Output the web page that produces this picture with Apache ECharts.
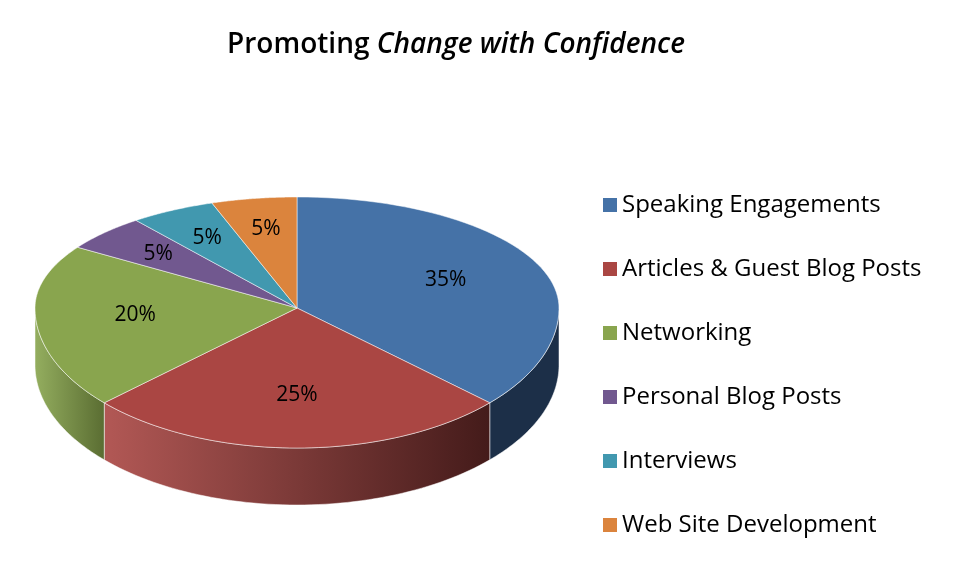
<!DOCTYPE html>
<html><head><meta charset="utf-8">
<script src="https://cdn.jsdelivr.net/npm/echarts@6/dist/echarts.min.js"></script>
<style>html,body{margin:0;background:#fff}#c{width:960px;height:572px}</style>
</head><body><div id="c"></div>
<script>
var categories = ["Speaking Engagements", "Articles & Guest Blog Posts", "Networking", "Personal Blog Posts", "Interviews", "Web Site Development"];
var values = [35, 25, 20, 5, 5, 5];
var colors = ["#4572A7", "#AA4643", "#89A54E", "#71588F", "#4198AF", "#DB843D"];
var sideDark = ["#1c2f48", "#441b1a", "#5a6d32", "#3f2f52", "#25596a", "#7d4a20"];

// perspective: back half flatter than front half
var cx = 297, cy = 308, rx = 262, ryBack = 111, ryFront = 140, depth = 57;
var total = values.reduce(function (a, b) { return a + b; }, 0);
var starts = [];
(function () { var s = 0; for (var i = 0; i < values.length; i++) { starts.push(s); s += values[i]; } })();

function pt(t, dy, f) {
    f = f || 1;
    var c = Math.cos(t), ry = c > 0 ? ryBack : ryFront;
    return [cx + rx * f * Math.sin(t), cy - ry * f * c + (dy || 0)];
}
function angles(i) { return [starts[i] / total * 2 * Math.PI, (starts[i] + values[i]) / total * 2 * Math.PI]; }

function topItem(params, api) {
    var i = params.dataIndex, a = angles(i), pts = [[cx, cy]];
    for (var k = 0; k <= 60; k++) pts.push(pt(a[0] + (a[1] - a[0]) * k / 60));
    var m = (a[0] + a[1]) / 2;
    var lp = pt(m, 0, values[i] < 10 ? 0.72 : 0.62);
    return { type: "group", children: [
        { type: "polygon", shape: { points: pts }, style: { fill: colors[i], stroke: "#fff", lineWidth: 0.5 } },
        { type: "text", x: lp[0], y: lp[1], style: { text: values[i] + "%", fill: "#000", font: "21px 'Open Sans', sans-serif", align: "center", verticalAlign: "middle" } }
    ]};
}
function sideItem(params, api) {
    var i = params.dataIndex, a = angles(i);
    var lo = Math.max(a[0], Math.PI / 2), hi = Math.min(a[1], 3 * Math.PI / 2);
    if (hi <= lo) return null;
    var up = [], dn = [];
    for (var k = 0; k <= 60; k++) {
        var t = lo + (hi - lo) * k / 60;
        up.push(pt(t)); dn.unshift(pt(t, depth));
    }
    return { type: "polygon", shape: { points: up.concat(dn) }, style: {
        fill: new echarts.graphic.LinearGradient(0, 0, 1, 0, [
            { offset: 0, color: i === 0 ? sideDark[i] : echarts.color.lift(colors[i], 0.1) },
            { offset: 1, color: sideDark[i] }]),
        stroke: "#fff", lineWidth: 0.5 } };
}

var chart = echarts.init(document.getElementById("c"));
chart.setOption({
    animation: false,
    title: { left: 451, top: 26, textAlign: "center", text: "{a|Promoting }{b|Change with Confidence}",
        textStyle: { rich: {
            a: { fontSize: 28, fontFamily: "'Open Sans', sans-serif", fontWeight: 600, color: "#000" },
            b: { fontSize: 28, fontFamily: "'Open Sans', sans-serif", fontWeight: 600, fontStyle: "italic", color: "#000" } } } },
    legend: { orient: "vertical", left: 598, top: 188, itemWidth: 14, itemHeight: 14, itemGap: 40, icon: "rect",
        data: categories, textStyle: { fontSize: 24, fontFamily: "'Open Sans', sans-serif", color: "#000" } },
    color: colors,
    series: [
        { type: "pie", radius: [0, 0], center: [-50, -50], label: { show: false }, silent: true,
          data: categories.map(function (c, i) { return { name: c, value: values[i] }; }) },
        { type: "custom", coordinateSystem: "none", renderItem: sideItem, data: values, z: 1 },
        { type: "custom", coordinateSystem: "none", renderItem: topItem, data: values, z: 2 }
    ]
});
</script></body></html>
